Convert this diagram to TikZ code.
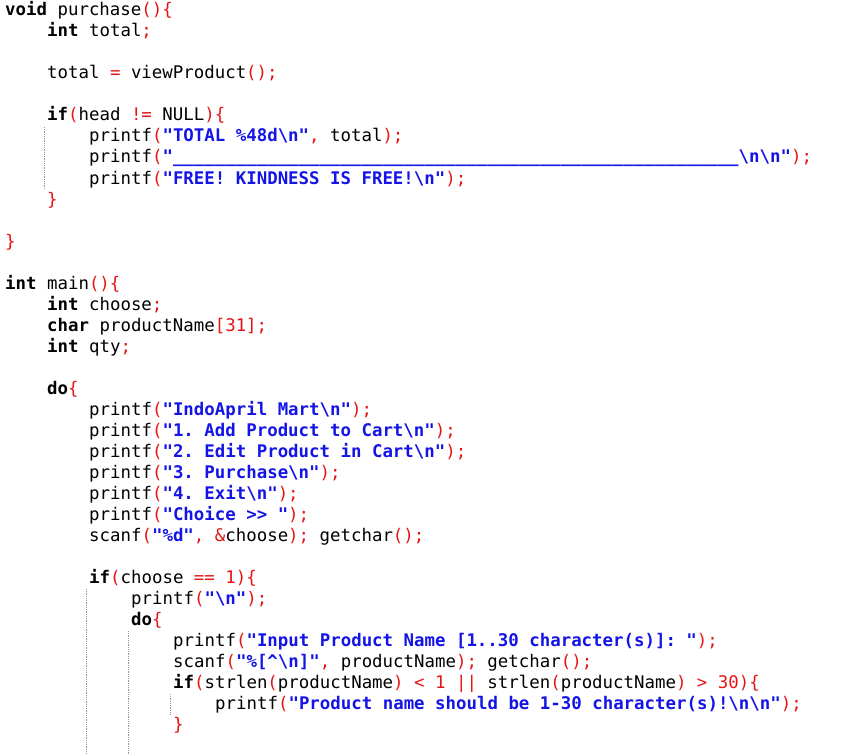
\documentclass[tikz,border=0pt]{standalone}
\usepackage{fontspec}
\setmonofont{DejaVu Sans Mono}
\definecolor{opred}{RGB}{230,20,20}
\definecolor{strblue}{RGB}{20,20,230}
\definecolor{guide}{RGB}{150,150,150}
\newcommand{\kw}[1]{\textbf{#1}}
\newcommand{\op}[1]{\textcolor{opred}{#1}}
\newcommand{\str}[1]{\textcolor{strblue}{\textbf{#1}}}
\newcommand{\nm}[1]{\textcolor{opred}{#1}}
\newcommand{\bs}{\textbackslash}
\tikzset{
  codeline/.style={anchor=base west, inner sep=0pt, font=\ttfamily\fontsize{17.4}{20}\selectfont},
  indentguide/.style={draw=guide, densely dotted, line width=0.8pt}
}
\begin{document}
\begin{tikzpicture}[x=1pt,y=1pt,yscale=-1]
\useasboundingbox (0,0) rectangle (853,754);
\fill[white] (0,0) rectangle (853,754);

% purchase
\node[codeline] (l1) at (5,16) {\kw{void} purchase\op{()\{}};
\node[codeline] (l2) at (47,37) {\kw{int} total\op{;}};
\node[codeline] (l4) at (47,79) {total \op{=} viewProduct\op{();}};
\node[codeline] (l6) at (47,121) {\kw{if}\op{(}head \op{!=} NULL\op{)\{}};
\node[codeline] (l7) at (89,142) {printf\op{(}\str{"TOTAL \%48d\bs n"}\op{,} total\op{);}};
\node[codeline] (l8) at (89,163) {printf\op{(}\str{"\_\_\_\_\_\_\_\_\_\_\_\_\_\_\_\_\_\_\_\_\_\_\_\_\_\_\_\_\_\_\_\_\_\_\_\_\_\_\_\_\_\_\_\_\_\_\_\_\_\_\_\_\_\_\bs n\bs n"}\op{);}};
\node[codeline] (l9) at (89,184) {printf\op{(}\str{"FREE! KINDNESS IS FREE!\bs n"}\op{);}};
\node[codeline] (l10) at (47,205) {\op{\}}};
\node[codeline] (l12) at (5,247) {\op{\}}};

% main
\node[codeline] (l14) at (5,289) {\kw{int} main\op{()\{}};
\node[codeline] (l15) at (47,310) {\kw{int} choose\op{;}};
\node[codeline] (l16) at (47,331) {\kw{char} productName\op{[}\nm{31}\op{];}};
\node[codeline] (l17) at (47,352) {\kw{int} qty\op{;}};
\node[codeline] (l19) at (47,394) {\kw{do}\op{\{}};
\node[codeline] (l20) at (89,415) {printf\op{(}\str{"IndoApril Mart\bs n"}\op{);}};
\node[codeline] (l21) at (89,436) {printf\op{(}\str{"1. Add Product to Cart\bs n"}\op{);}};
\node[codeline] (l22) at (89,457) {printf\op{(}\str{"2. Edit Product in Cart\bs n"}\op{);}};
\node[codeline] (l23) at (89,478) {printf\op{(}\str{"3. Purchase\bs n"}\op{);}};
\node[codeline] (l24) at (89,499) {printf\op{(}\str{"4. Exit\bs n"}\op{);}};
\node[codeline] (l25) at (89,520) {printf\op{(}\str{"Choice >> "}\op{);}};
\node[codeline] (l26) at (89,541) {scanf\op{(}\str{"\%d"}\op{,} \op{\&}choose\op{);} getchar\op{();}};
\node[codeline] (l28) at (89,583) {\kw{if}\op{(}choose \op{==} \nm{1}\op{)\{}};
\node[codeline] (l29) at (131,604) {printf\op{(}\str{"\bs n"}\op{);}};
\node[codeline] (l30) at (131,625) {\kw{do}\op{\{}};
\node[codeline] (l31) at (173,646) {printf\op{(}\str{"Input Product Name [1..30 character(s)]: "}\op{);}};
\node[codeline] (l32) at (173,667) {scanf\op{(}\str{"\%[\textasciicircum\bs n]"}\op{,} productName\op{);} getchar\op{();}};
\node[codeline] (l33) at (173,688) {\kw{if}\op{(}strlen\op{(}productName\op{)} \op{<} \nm{1} \op{||} strlen\op{(}productName\op{)} \op{>} \nm{30}\op{)\{}};
\node[codeline] (l34) at (215,709) {printf\op{(}\str{"Product name should be 1-30 character(s)!\bs n\bs n"}\op{);}};
\node[codeline] (l35) at (173,730) {\op{\}}};

% indent guides
\draw[indentguide] (44,127) -- (44,190);
\draw[indentguide] (86,589) -- (86,754);
\draw[indentguide] (128,631) -- (128,754);
\draw[indentguide] (170,694) -- (170,715);
\end{tikzpicture}
\end{document}
